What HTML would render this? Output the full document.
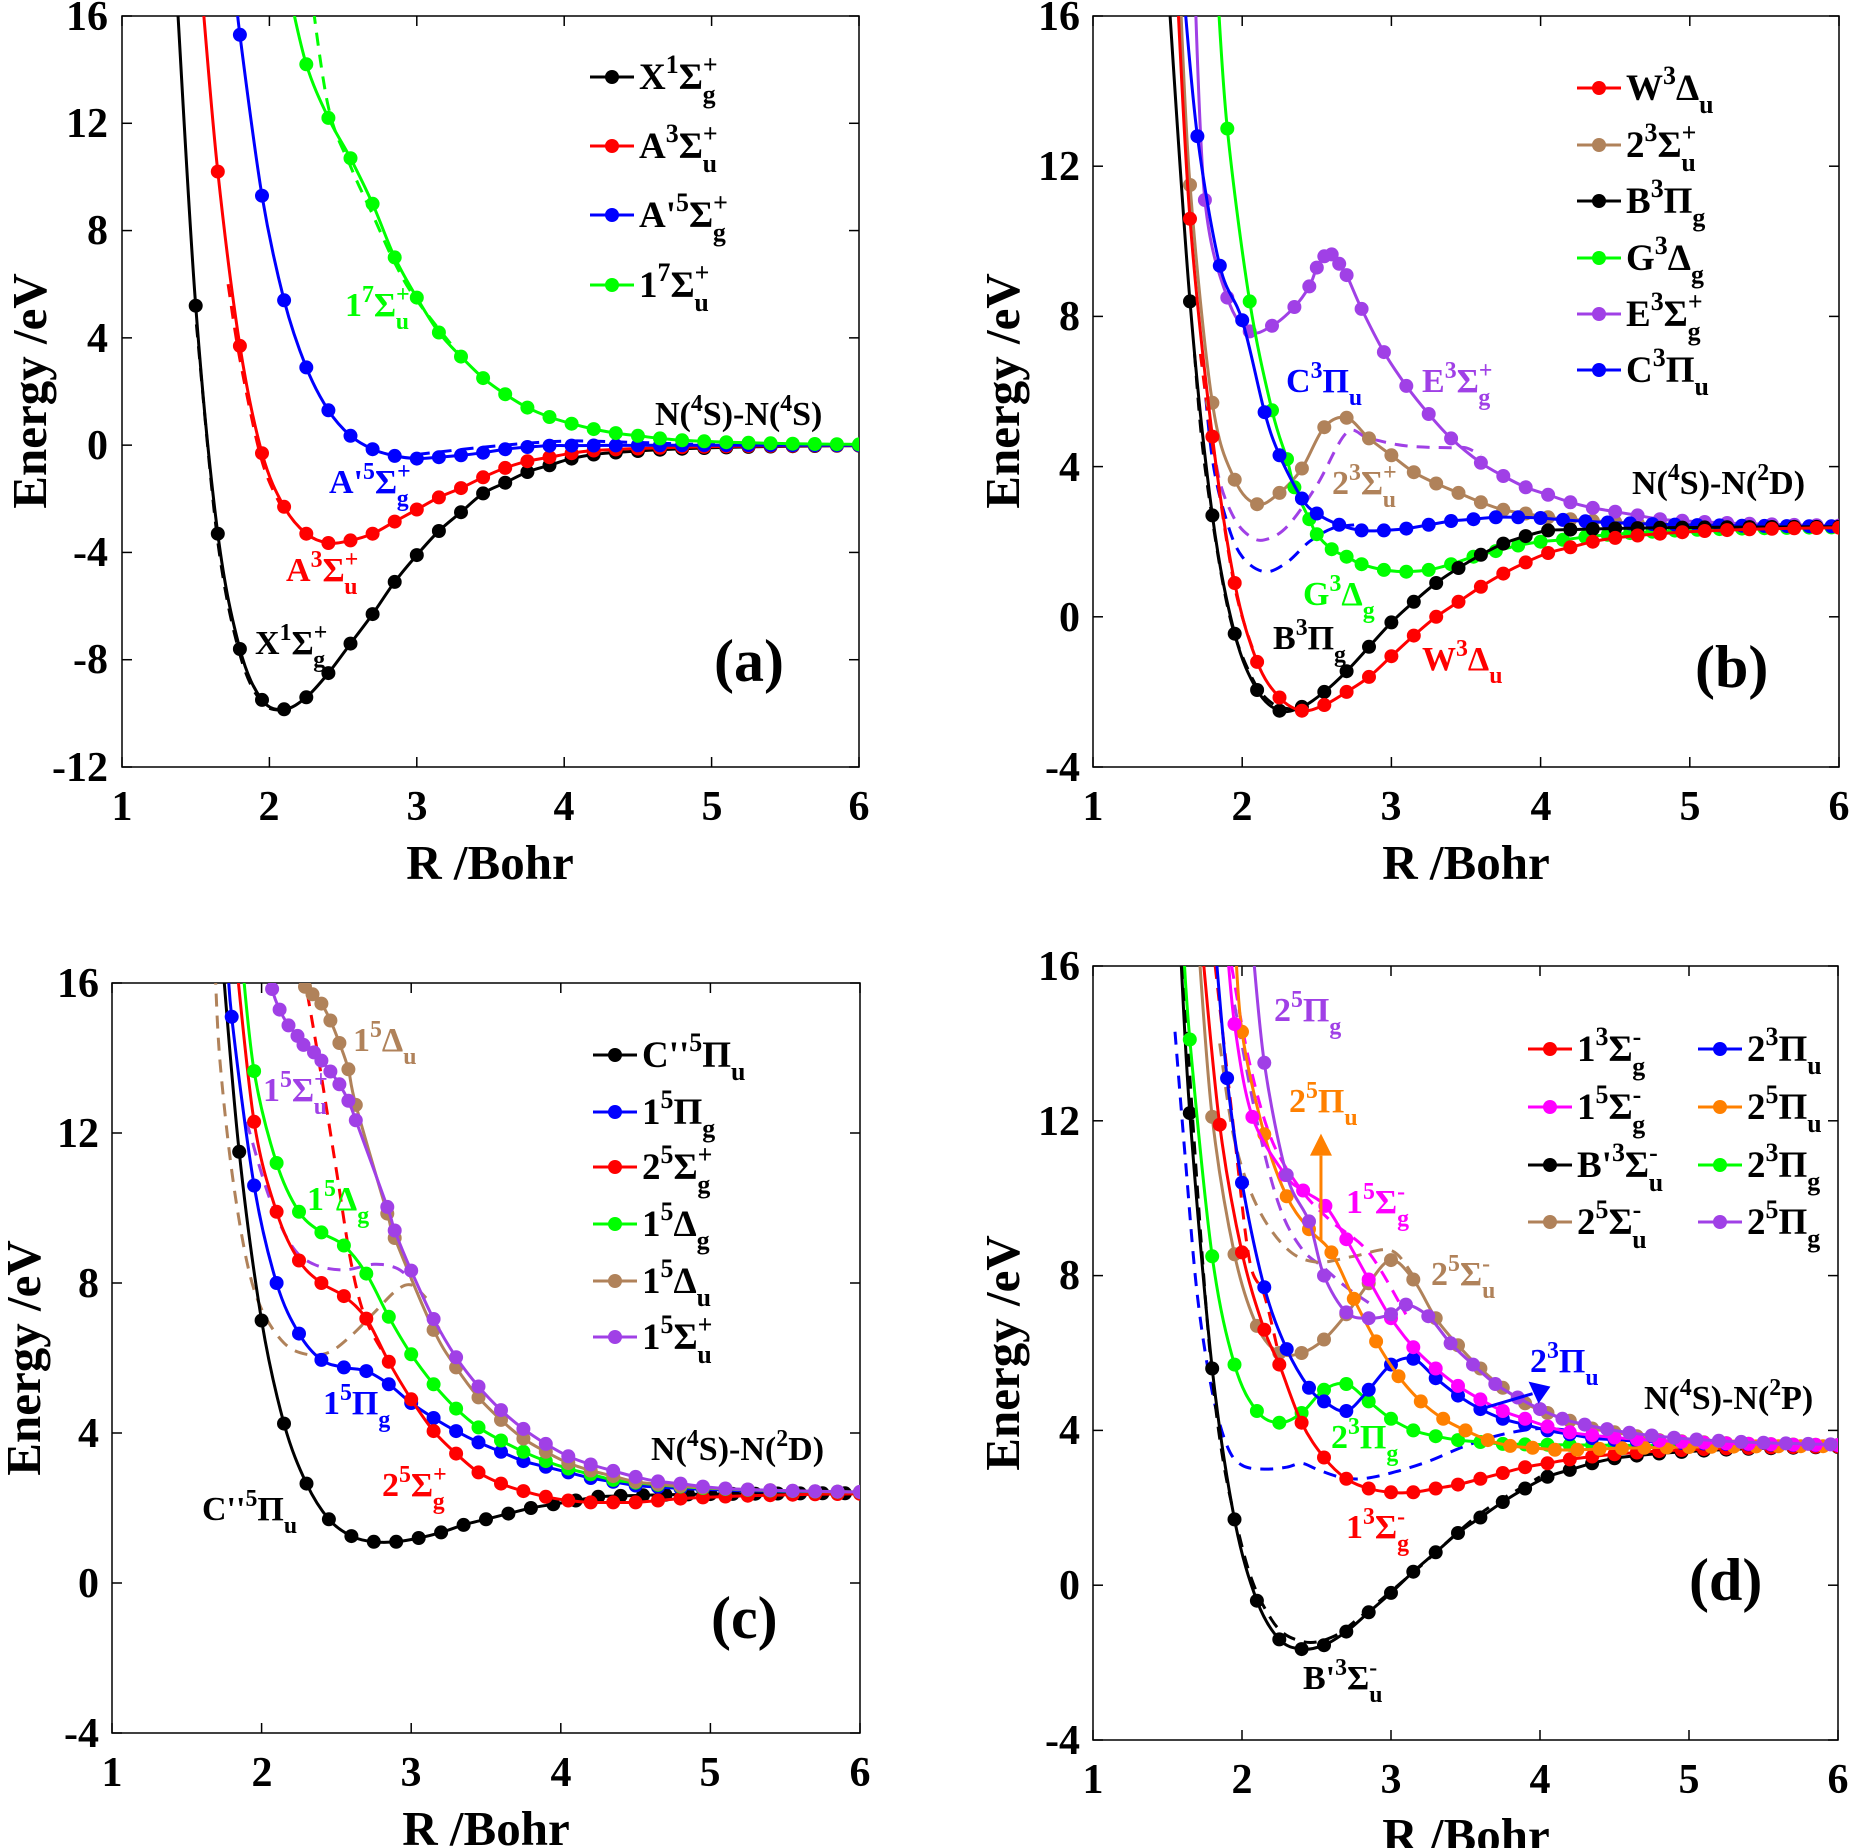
<!DOCTYPE html>
<html><head><meta charset="utf-8">
<style>
html,body{margin:0;padding:0;background:#fff;}
svg{display:block}
text{font-family:"Liberation Serif",serif;font-weight:bold}
.tk{font-size:42px}
.ti{font-size:49px}
.lg{font-size:37px}
.lb{font-size:34px}
.pl{font-size:60px}
.s{font-size:70%}
</style></head>
<body>
<svg id="svg" width="1850" height="1848" viewBox="0 0 1850 1848" xmlns="http://www.w3.org/2000/svg">
<defs>
<clipPath id="ca"><rect x="122" y="16" width="737" height="751"/></clipPath>
<clipPath id="cb"><rect x="1093" y="16" width="746" height="751"/></clipPath>
<clipPath id="cc"><rect x="112" y="983" width="748" height="750"/></clipPath>
<clipPath id="cd"><rect x="1093" y="966" width="745" height="774"/></clipPath>
</defs>
<g id="axes"></g>
<g id="ga" clip-path="url(#ca)"></g>
<g id="gb" clip-path="url(#cb)"></g>
<g id="gc" clip-path="url(#cc)"></g>
<g id="gd" clip-path="url(#cd)"></g>

<!-- Panel a texts -->
<g class="tk" text-anchor="end">
<text x="108" y="30">16</text><text x="108" y="137">12</text><text x="108" y="244">8</text><text x="108" y="352">4</text><text x="108" y="459">0</text><text x="108" y="566">-4</text><text x="108" y="673">-8</text><text x="108" y="781">-12</text>
</g>
<g class="tk" text-anchor="middle">
<text x="122" y="820">1</text><text x="269" y="820">2</text><text x="417" y="820">3</text><text x="564" y="820">4</text><text x="712" y="820">5</text><text x="859" y="820">6</text>
</g>
<text class="ti" x="490" y="879" text-anchor="middle">R /Bohr</text>
<text class="ti" transform="translate(46,391) rotate(-90)" text-anchor="middle">Energy /eV</text>
<text class="pl" x="714" y="681">(a)</text>

<!-- Panel b texts -->
<g class="tk" text-anchor="end">
<text x="1080" y="30">16</text><text x="1080" y="180">12</text><text x="1080" y="330">8</text><text x="1080" y="481">4</text><text x="1080" y="631">0</text><text x="1080" y="781">-4</text>
</g>
<g class="tk" text-anchor="middle">
<text x="1093" y="820">1</text><text x="1242" y="820">2</text><text x="1391" y="820">3</text><text x="1541" y="820">4</text><text x="1690" y="820">5</text><text x="1839" y="820">6</text>
</g>
<text class="ti" x="1466" y="879" text-anchor="middle">R /Bohr</text>
<text class="ti" transform="translate(1019,391) rotate(-90)" text-anchor="middle">Energy /eV</text>
<text class="pl" x="1695" y="687">(b)</text>

<!-- Panel c texts -->
<g class="tk" text-anchor="end">
<text x="99" y="997">16</text><text x="99" y="1147">12</text><text x="99" y="1297">8</text><text x="99" y="1447">4</text><text x="99" y="1597">0</text><text x="99" y="1747">-4</text>
</g>
<g class="tk" text-anchor="middle">
<text x="112" y="1786">1</text><text x="262" y="1786">2</text><text x="411" y="1786">3</text><text x="561" y="1786">4</text><text x="710" y="1786">5</text><text x="860" y="1786">6</text>
</g>
<text class="ti" x="486" y="1845" text-anchor="middle">R /Bohr</text>
<text class="ti" transform="translate(40,1358) rotate(-90)" text-anchor="middle">Energy /eV</text>
<text class="pl" x="711" y="1638">(c)</text>

<!-- Panel d texts -->
<g class="tk" text-anchor="end">
<text x="1080" y="980">16</text><text x="1080" y="1135">12</text><text x="1080" y="1289">8</text><text x="1080" y="1444">4</text><text x="1080" y="1599">0</text><text x="1080" y="1754">-4</text>
</g>
<g class="tk" text-anchor="middle">
<text x="1093" y="1793">1</text><text x="1242" y="1793">2</text><text x="1391" y="1793">3</text><text x="1540" y="1793">4</text><text x="1689" y="1793">5</text><text x="1838" y="1793">6</text>
</g>
<text class="ti" x="1466" y="1852" text-anchor="middle">R /Bohr</text>
<text class="ti" transform="translate(1019,1353) rotate(-90)" text-anchor="middle">Energy /eV</text>
<text class="pl" x="1689" y="1600">(d)</text>

<!-- ===== Legends ===== -->
<g stroke-width="3">
<line x1="590" x2="634" y1="77" y2="77" stroke="#000"/><circle cx="612" cy="77" r="7" fill="#000"/>
<line x1="590" x2="634" y1="146" y2="146" stroke="#f00"/><circle cx="612" cy="146" r="7" fill="#f00"/>
<line x1="590" x2="634" y1="215" y2="215" stroke="#00f"/><circle cx="612" cy="215" r="7" fill="#00f"/>
<line x1="590" x2="634" y1="285" y2="285" stroke="#0f0"/><circle cx="612" cy="285" r="7" fill="#0f0"/>
<line x1="1577" x2="1621" y1="88" y2="88" stroke="#f00"/><circle cx="1599" cy="88" r="7" fill="#f00"/>
<line x1="1577" x2="1621" y1="145" y2="145" stroke="#b0825a"/><circle cx="1599" cy="145" r="7" fill="#b0825a"/>
<line x1="1577" x2="1621" y1="201" y2="201" stroke="#000"/><circle cx="1599" cy="201" r="7" fill="#000"/>
<line x1="1577" x2="1621" y1="258" y2="258" stroke="#0f0"/><circle cx="1599" cy="258" r="7" fill="#0f0"/>
<line x1="1577" x2="1621" y1="314" y2="314" stroke="#a040e6"/><circle cx="1599" cy="314" r="7" fill="#a040e6"/>
<line x1="1577" x2="1621" y1="370" y2="370" stroke="#00f"/><circle cx="1599" cy="370" r="7" fill="#00f"/>
<line x1="593" x2="637" y1="1055" y2="1055" stroke="#000"/><circle cx="615" cy="1055" r="7" fill="#000"/>
<line x1="593" x2="637" y1="1112" y2="1112" stroke="#00f"/><circle cx="615" cy="1112" r="7" fill="#00f"/>
<line x1="593" x2="637" y1="1167" y2="1167" stroke="#f00"/><circle cx="615" cy="1167" r="7" fill="#f00"/>
<line x1="593" x2="637" y1="1224" y2="1224" stroke="#0f0"/><circle cx="615" cy="1224" r="7" fill="#0f0"/>
<line x1="593" x2="637" y1="1281" y2="1281" stroke="#b0825a"/><circle cx="615" cy="1281" r="7" fill="#b0825a"/>
<line x1="593" x2="637" y1="1337" y2="1337" stroke="#a040e6"/><circle cx="615" cy="1337" r="7" fill="#a040e6"/>
<line x1="1528" x2="1572" y1="1049" y2="1049" stroke="#f00"/><circle cx="1550" cy="1049" r="7" fill="#f00"/>
<line x1="1528" x2="1572" y1="1107" y2="1107" stroke="#f0f"/><circle cx="1550" cy="1107" r="7" fill="#f0f"/>
<line x1="1528" x2="1572" y1="1165" y2="1165" stroke="#000"/><circle cx="1550" cy="1165" r="7" fill="#000"/>
<line x1="1528" x2="1572" y1="1222" y2="1222" stroke="#b0825a"/><circle cx="1550" cy="1222" r="7" fill="#b0825a"/>
<line x1="1698" x2="1742" y1="1049" y2="1049" stroke="#00f"/><circle cx="1720" cy="1049" r="7" fill="#00f"/>
<line x1="1698" x2="1742" y1="1107" y2="1107" stroke="#ff8000"/><circle cx="1720" cy="1107" r="7" fill="#ff8000"/>
<line x1="1698" x2="1742" y1="1165" y2="1165" stroke="#0f0"/><circle cx="1720" cy="1165" r="7" fill="#0f0"/>
<line x1="1698" x2="1742" y1="1222" y2="1222" stroke="#a040e6"/><circle cx="1720" cy="1222" r="7" fill="#a040e6"/>
</g>

<g class="lg">
<text x="639" y="89">X<tspan class="s" dy="-16">1</tspan><tspan dy="16">Σ</tspan><tspan class="s" dy="-16">+</tspan><tspan class="s" dx="-15" dy="30">g</tspan></text>
<text x="639" y="158">A<tspan class="s" dy="-16">3</tspan><tspan dy="16">Σ</tspan><tspan class="s" dy="-16">+</tspan><tspan class="s" dx="-15" dy="30">u</tspan></text>
<text x="639" y="227">A'<tspan class="s" dy="-16">5</tspan><tspan dy="16">Σ</tspan><tspan class="s" dy="-16">+</tspan><tspan class="s" dx="-15" dy="30">g</tspan></text>
<text x="639" y="297">1<tspan class="s" dy="-16">7</tspan><tspan dy="16">Σ</tspan><tspan class="s" dy="-16">+</tspan><tspan class="s" dx="-15" dy="30">u</tspan></text>
<text x="1626" y="100">W<tspan class="s" dy="-16">3</tspan><tspan dy="16">Δ</tspan><tspan class="s" dy="13">u</tspan></text>
<text x="1626" y="157">2<tspan class="s" dy="-16">3</tspan><tspan dy="16">Σ</tspan><tspan class="s" dy="-16">+</tspan><tspan class="s" dx="-15" dy="30">u</tspan></text>
<text x="1626" y="213">B<tspan class="s" dy="-16">3</tspan><tspan dy="16">Π</tspan><tspan class="s" dy="13">g</tspan></text>
<text x="1626" y="270">G<tspan class="s" dy="-16">3</tspan><tspan dy="16">Δ</tspan><tspan class="s" dy="13">g</tspan></text>
<text x="1626" y="326">E<tspan class="s" dy="-16">3</tspan><tspan dy="16">Σ</tspan><tspan class="s" dy="-16">+</tspan><tspan class="s" dx="-15" dy="30">g</tspan></text>
<text x="1626" y="382">C<tspan class="s" dy="-16">3</tspan><tspan dy="16">Π</tspan><tspan class="s" dy="13">u</tspan></text>
<text x="642" y="1067">C''<tspan class="s" dy="-16">5</tspan><tspan dy="16">Π</tspan><tspan class="s" dy="13">u</tspan></text>
<text x="642" y="1124">1<tspan class="s" dy="-16">5</tspan><tspan dy="16">Π</tspan><tspan class="s" dy="13">g</tspan></text>
<text x="642" y="1179">2<tspan class="s" dy="-16">5</tspan><tspan dy="16">Σ</tspan><tspan class="s" dy="-16">+</tspan><tspan class="s" dx="-15" dy="30">g</tspan></text>
<text x="642" y="1236">1<tspan class="s" dy="-16">5</tspan><tspan dy="16">Δ</tspan><tspan class="s" dy="13">g</tspan></text>
<text x="642" y="1293">1<tspan class="s" dy="-16">5</tspan><tspan dy="16">Δ</tspan><tspan class="s" dy="13">u</tspan></text>
<text x="642" y="1349">1<tspan class="s" dy="-16">5</tspan><tspan dy="16">Σ</tspan><tspan class="s" dy="-16">+</tspan><tspan class="s" dx="-15" dy="30">u</tspan></text>
<text x="1577" y="1061">1<tspan class="s" dy="-16">3</tspan><tspan dy="16">Σ</tspan><tspan class="s" dy="-16">-</tspan><tspan class="s" dx="-9" dy="30">g</tspan></text>
<text x="1577" y="1119">1<tspan class="s" dy="-16">5</tspan><tspan dy="16">Σ</tspan><tspan class="s" dy="-16">-</tspan><tspan class="s" dx="-9" dy="30">g</tspan></text>
<text x="1577" y="1177">B'<tspan class="s" dy="-16">3</tspan><tspan dy="16">Σ</tspan><tspan class="s" dy="-16">-</tspan><tspan class="s" dx="-9" dy="30">u</tspan></text>
<text x="1577" y="1234">2<tspan class="s" dy="-16">5</tspan><tspan dy="16">Σ</tspan><tspan class="s" dy="-16">-</tspan><tspan class="s" dx="-9" dy="30">u</tspan></text>
<text x="1747" y="1061">2<tspan class="s" dy="-16">3</tspan><tspan dy="16">Π</tspan><tspan class="s" dy="13">u</tspan></text>
<text x="1747" y="1119">2<tspan class="s" dy="-16">5</tspan><tspan dy="16">Π</tspan><tspan class="s" dy="13">u</tspan></text>
<text x="1747" y="1177">2<tspan class="s" dy="-16">3</tspan><tspan dy="16">Π</tspan><tspan class="s" dy="13">g</tspan></text>
<text x="1747" y="1234">2<tspan class="s" dy="-16">5</tspan><tspan dy="16">Π</tspan><tspan class="s" dy="13">g</tspan></text>
</g>

<!-- ===== In-plot labels ===== -->
<g class="lb">
<text x="345" y="316" fill="#0f0">1<tspan class="s" dy="-14">7</tspan><tspan dy="14">Σ</tspan><tspan class="s" dy="-14">+</tspan><tspan class="s" dx="-14" dy="27">u</tspan></text>
<text x="655" y="425">N(<tspan class="s" dy="-14">4</tspan><tspan dy="14">S)-N(</tspan><tspan class="s" dy="-14">4</tspan><tspan dy="14">S)</tspan></text>
<text x="329" y="493" fill="#00f">A'<tspan class="s" dy="-14">5</tspan><tspan dy="14">Σ</tspan><tspan class="s" dy="-14">+</tspan><tspan class="s" dx="-14" dy="27">g</tspan></text>
<text x="286" y="581" fill="#f00">A<tspan class="s" dy="-14">3</tspan><tspan dy="14">Σ</tspan><tspan class="s" dy="-14">+</tspan><tspan class="s" dx="-14" dy="27">u</tspan></text>
<text x="255" y="654">X<tspan class="s" dy="-14">1</tspan><tspan dy="14">Σ</tspan><tspan class="s" dy="-14">+</tspan><tspan class="s" dx="-14" dy="27">g</tspan></text>
<text x="1286" y="392" fill="#00f">C<tspan class="s" dy="-14">3</tspan><tspan dy="14">Π</tspan><tspan class="s" dy="13">u</tspan></text>
<text x="1422" y="392" fill="#a040e6">E<tspan class="s" dy="-14">3</tspan><tspan dy="14">Σ</tspan><tspan class="s" dy="-14">+</tspan><tspan class="s" dx="-14" dy="27">g</tspan></text>
<text x="1332" y="494" fill="#b0825a">2<tspan class="s" dy="-14">3</tspan><tspan dy="14">Σ</tspan><tspan class="s" dy="-14">+</tspan><tspan class="s" dx="-14" dy="27">u</tspan></text>
<text x="1632" y="494">N(<tspan class="s" dy="-14">4</tspan><tspan dy="14">S)-N(</tspan><tspan class="s" dy="-14">2</tspan><tspan dy="14">D)</tspan></text>
<text x="1303" y="605" fill="#0f0">G<tspan class="s" dy="-14">3</tspan><tspan dy="14">Δ</tspan><tspan class="s" dy="13">g</tspan></text>
<text x="1273" y="649">B<tspan class="s" dy="-14">3</tspan><tspan dy="14">Π</tspan><tspan class="s" dy="13">g</tspan></text>
<text x="1422" y="670" fill="#f00">W<tspan class="s" dy="-14">3</tspan><tspan dy="14">Δ</tspan><tspan class="s" dy="13">u</tspan></text>
<text x="353" y="1051" fill="#b0825a">1<tspan class="s" dy="-14">5</tspan><tspan dy="14">Δ</tspan><tspan class="s" dy="13">u</tspan></text>
<text x="263" y="1101" fill="#a040e6">1<tspan class="s" dy="-14">5</tspan><tspan dy="14">Σ</tspan><tspan class="s" dy="-14">+</tspan><tspan class="s" dx="-14" dy="27">u</tspan></text>
<text x="307" y="1210" fill="#0f0">1<tspan class="s" dy="-14">5</tspan><tspan dy="14">Δ</tspan><tspan class="s" dy="13">g</tspan></text>
<text x="323" y="1414" fill="#00f">1<tspan class="s" dy="-14">5</tspan><tspan dy="14">Π</tspan><tspan class="s" dy="13">g</tspan></text>
<text x="382" y="1496" fill="#f00">2<tspan class="s" dy="-14">5</tspan><tspan dy="14">Σ</tspan><tspan class="s" dy="-14">+</tspan><tspan class="s" dx="-14" dy="27">g</tspan></text>
<text x="202" y="1520">C''<tspan class="s" dy="-14">5</tspan><tspan dy="14">Π</tspan><tspan class="s" dy="13">u</tspan></text>
<text x="651" y="1460">N(<tspan class="s" dy="-14">4</tspan><tspan dy="14">S)-N(</tspan><tspan class="s" dy="-14">2</tspan><tspan dy="14">D)</tspan></text>
<text x="1274" y="1021" fill="#a040e6">2<tspan class="s" dy="-14">5</tspan><tspan dy="14">Π</tspan><tspan class="s" dy="13">g</tspan></text>
<text x="1289" y="1112" fill="#ff8000">2<tspan class="s" dy="-14">5</tspan><tspan dy="14">Π</tspan><tspan class="s" dy="13">u</tspan></text>
<text x="1346" y="1213" fill="#f0f">1<tspan class="s" dy="-14">5</tspan><tspan dy="14">Σ</tspan><tspan class="s" dy="-14">-</tspan><tspan class="s" dx="-8" dy="27">g</tspan></text>
<text x="1431" y="1285" fill="#b0825a">2<tspan class="s" dy="-14">5</tspan><tspan dy="14">Σ</tspan><tspan class="s" dy="-14">-</tspan><tspan class="s" dx="-8" dy="27">u</tspan></text>
<text x="1530" y="1372" fill="#00f">2<tspan class="s" dy="-14">3</tspan><tspan dy="14">Π</tspan><tspan class="s" dy="13">u</tspan></text>
<text x="1644" y="1409">N(<tspan class="s" dy="-14">4</tspan><tspan dy="14">S)-N(</tspan><tspan class="s" dy="-14">2</tspan><tspan dy="14">P)</tspan></text>
<text x="1331" y="1448" fill="#0f0">2<tspan class="s" dy="-14">3</tspan><tspan dy="14">Π</tspan><tspan class="s" dy="13">g</tspan></text>
<text x="1346" y="1538" fill="#f00">1<tspan class="s" dy="-14">3</tspan><tspan dy="14">Σ</tspan><tspan class="s" dy="-14">-</tspan><tspan class="s" dx="-8" dy="27">g</tspan></text>
<text x="1303" y="1689">B'<tspan class="s" dy="-14">3</tspan><tspan dy="14">Σ</tspan><tspan class="s" dy="-14">-</tspan><tspan class="s" dx="-8" dy="27">u</tspan></text>
</g>
<g id="arrows"></g>
</svg>
<script>
var P={
a:{x0:122,x1:859,y0:16,y1:767,lo:-12,hi:16,A:0},
b:{x0:1093,x1:1839,y0:16,y1:767,lo:-4,hi:16,A:2.4},
c:{x0:112,x1:860,y0:983,y1:1733,lo:-4,hi:16,A:2.4},
d:{x0:1093,x1:1838,y0:966,y1:1740,lo:-4,hi:16,A:3.6}};
function X(p,R){return p.x0+(R-1)/5*(p.x1-p.x0);}
function Y(p,E){return p.y1-(E-p.lo)/(p.hi-p.lo)*(p.y1-p.y0);}
var K='#000',R='#f00',B='#00f',G='#0f0',N='#b0825a',U='#a040e6',M='#f0f',O='#ff8000';
var C={a:[
[K,[[1.505,4.5],[1.65,-3.6],[1.8,-7.8],[1.95,-9.6],[2.1,-9.9]],1],
[G,[[2.28,17],[2.4,12.6],[2.55,10.4],[2.7,8.6],[2.85,6.8],[3.0,5.4],[3.3,3.3]],1],
[B,[[3.0,-0.35],[3.5,-0.05],[4.0,0.15],[4.5,0.1],[5,0.02],[6,0]],1],
[R,[[1.72,6],[1.8,3.2],[1.95,-0.6],[2.1,-2.5]],1],
[K,[[1.37,17],[1.5,5.2],[1.65,-3.3],[1.8,-7.6],[1.95,-9.5],[2.1,-9.85],[2.25,-9.4],[2.4,-8.5],[2.55,-7.4],[2.7,-6.3],[2.85,-5.1],[3.0,-4.1],[3.15,-3.2],[3.3,-2.5],[3.45,-1.8],[3.6,-1.4],[3.75,-1.0],[3.9,-0.75],[4.05,-0.5],[4.2,-0.35]],0],
[R,[[1.54,17],[1.65,10.2],[1.8,3.7],[1.95,-0.3],[2.1,-2.3],[2.25,-3.3],[2.4,-3.65],[2.55,-3.55],[2.7,-3.3],[2.85,-2.85],[3.0,-2.4],[3.15,-1.95],[3.3,-1.6],[3.45,-1.2],[3.6,-0.85],[3.75,-0.6],[3.9,-0.45],[4.05,-0.3],[4.2,-0.2]],0],
[B,[[1.77,17],[1.8,15.3],[1.95,9.3],[2.1,5.4],[2.25,2.9],[2.4,1.3],[2.55,0.35],[2.7,-0.15],[2.85,-0.4],[3.0,-0.5],[3.15,-0.45],[3.3,-0.38],[3.45,-0.28],[3.6,-0.15],[3.75,-0.07],[3.9,-0.02]],0],
[G,[[2.13,17],[2.25,14.2],[2.4,12.2],[2.55,10.7],[2.7,9.0],[2.85,7.0],[3.0,5.5],[3.15,4.2],[3.3,3.3],[3.45,2.5],[3.6,1.9],[3.75,1.4],[3.9,1.05],[4.05,0.8],[4.2,0.6],[4.35,0.45],[4.5,0.35],[4.65,0.25],[4.8,0.18]],0]
],b:[
[B,[[1.73,7],[1.8,4.2],[1.9,2.5],[2.0,1.6],[2.15,1.2],[2.3,1.45],[2.45,2.0],[2.6,2.35],[2.75,2.45]],1],
[U,[[1.78,5.2],[1.85,3.6],[1.95,2.6],[2.05,2.15],[2.15,2.05],[2.3,2.4],[2.5,3.5],[2.7,4.9],[2.85,4.75],[3.1,4.55],[3.4,4.5],[3.5,4.5],[3.6,4.3]],1],
[R,[[1.72,7],[1.8,4.6],[1.95,0.8],[2.1,-1.2]],1],
[K,[[1.68,7],[1.75,4.0],[1.9,0.3],[2.05,-1.5],[2.2,-2.3],[2.4,-2.5]],1],
[N,[[1.58,17],[1.65,11.5],[1.8,5.7],[1.95,3.65],[2.1,3.0],[2.25,3.3],[2.4,3.95],[2.55,5.05],[2.7,5.3],[2.85,4.75],[3.0,4.3],[3.15,3.85],[3.3,3.55],[3.45,3.3],[3.6,3.05],[3.75,2.85],[3.9,2.75],[4.05,2.65]],0],
[U,[[1.68,17],[1.75,11.1],[1.9,8.5],[2.05,7.6],[2.2,7.75],[2.35,8.25],[2.45,8.8],[2.5,9.3],[2.55,9.6],[2.6,9.65],[2.65,9.4],[2.7,9.1],[2.8,8.2],[2.95,7.05],[3.1,6.15],[3.25,5.4],[3.4,4.75],[3.6,4.1],[3.75,3.75],[3.9,3.45],[4.05,3.25],[4.2,3.05],[4.35,2.9],[4.5,2.8],[4.65,2.7],[4.8,2.6]],0],
[G,[[1.83,17],[1.9,13.0],[2.05,8.4],[2.2,5.5],[2.3,4.2],[2.35,3.45],[2.45,2.6],[2.5,2.2],[2.6,1.8],[2.7,1.6],[2.8,1.4],[2.95,1.25],[3.1,1.2],[3.25,1.25],[3.4,1.4],[3.55,1.6],[3.7,1.75],[3.85,1.9],[4.0,2.0],[4.15,2.05]],0],
[B,[[1.6,17],[1.7,12.8],[1.85,9.35],[2.0,7.9],[2.15,5.45],[2.25,4.3],[2.4,3.15],[2.5,2.75],[2.65,2.45],[2.8,2.3],[2.95,2.3],[3.1,2.35],[3.25,2.45],[3.4,2.55],[3.55,2.6],[3.7,2.65],[3.85,2.65],[4.0,2.63]],0],
[K,[[1.5,17],[1.65,8.4],[1.8,2.7],[1.95,-0.45],[2.1,-1.95],[2.25,-2.5],[2.4,-2.4],[2.55,-2.0],[2.7,-1.45],[2.85,-0.8],[3.0,-0.15],[3.15,0.4],[3.3,0.9],[3.45,1.3],[3.6,1.65],[3.75,1.95],[3.9,2.15],[4.05,2.3]],0],
[R,[[1.56,17],[1.65,10.6],[1.8,4.8],[1.95,0.9],[2.1,-1.2],[2.25,-2.15],[2.4,-2.5],[2.55,-2.35],[2.7,-2.0],[2.85,-1.6],[3.0,-1.05],[3.15,-0.5],[3.3,0.0],[3.45,0.4],[3.6,0.8],[3.75,1.15],[3.9,1.45],[4.05,1.7],[4.2,1.85],[4.35,2.0],[4.5,2.1]],0]
],c:[
[N,[[1.69,16.3],[1.72,14],[1.8,11],[1.9,8.6],[2.0,7.3],[2.15,6.4],[2.3,6.1],[2.45,6.15],[2.6,6.6],[2.75,7.2],[2.9,7.8],[3.0,7.95],[3.1,7.6]],1],
[R,[[2.28,16.3],[2.38,14],[2.5,11],[2.6,8.5],[2.7,7.0],[2.85,5.9]],1],
[U,[[1.9,12.3],[2.05,10.3],[2.2,9.0],[2.35,8.5],[2.55,8.35],[2.75,8.5],[2.9,8.4],[3.0,8.1]],1],
[K,[[1.73,17],[1.85,11.5],[2.0,7.0],[2.15,4.25],[2.3,2.65],[2.45,1.7],[2.6,1.25],[2.75,1.1],[2.9,1.1],[3.05,1.2],[3.2,1.35],[3.35,1.55],[3.5,1.7],[3.65,1.85],[3.8,2.0],[3.95,2.1],[4.1,2.2],[4.25,2.3]],0],
[B,[[1.77,17],[1.8,15.1],[1.95,10.6],[2.1,8.0],[2.25,6.65],[2.4,5.95],[2.55,5.75],[2.7,5.65],[2.85,5.3],[3.0,4.8],[3.15,4.4],[3.3,4.05],[3.45,3.75],[3.6,3.5],[3.75,3.25],[3.9,3.1],[4.05,2.95],[4.2,2.8],[4.35,2.7],[4.5,2.6]],0],
[R,[[1.82,17],[1.95,12.3],[2.1,9.9],[2.25,8.6],[2.4,8.0],[2.55,7.65],[2.7,7.05],[2.85,5.9],[3.0,4.9],[3.15,4.05],[3.3,3.45],[3.45,2.95],[3.6,2.65],[3.75,2.45],[3.9,2.3],[4.05,2.2],[4.2,2.15],[4.35,2.15],[4.5,2.15],[4.65,2.2],[4.8,2.25]],0],
[G,[[1.86,17],[1.95,13.65],[2.1,11.2],[2.25,9.9],[2.4,9.35],[2.55,9.0],[2.7,8.25],[2.85,7.1],[3.0,6.1],[3.15,5.3],[3.3,4.65],[3.45,4.15],[3.6,3.8],[3.75,3.5],[3.9,3.25],[4.05,3.05],[4.2,2.9],[4.35,2.75]],0],
[N,[[2.26,16.6],[2.29,15.9],[2.34,15.7],[2.4,15.45],[2.46,15.0],[2.52,14.4],[2.58,13.7],[2.63,12.75],[2.84,9.85],[2.89,9.2],[3.15,6.75],[3.3,5.75],[3.45,4.95],[3.6,4.35],[3.75,3.85],[3.9,3.5],[4.05,3.2],[4.2,3.0],[4.35,2.85],[4.5,2.7]],0],
[U,[[2.04,16.6],[2.07,15.84],[2.12,15.29],[2.18,14.87],[2.24,14.59],[2.28,14.35],[2.35,14.15],[2.4,13.93],[2.46,13.64],[2.52,13.3],[2.58,12.86],[2.63,12.34],[2.84,10.03],[2.89,9.4],[3.0,8.33],[3.15,7.04],[3.3,6.02],[3.45,5.24],[3.6,4.61],[3.75,4.11],[3.9,3.71],[4.05,3.38],[4.2,3.16],[4.35,2.99],[4.5,2.83],[4.65,2.71],[4.8,2.65],[4.95,2.57],[5.1,2.52]],0]
],d:[
[B,[[1.55,14.3],[1.62,11],[1.7,7.5],[1.8,5.0],[1.9,3.6],[2.0,3.1],[2.15,3.0],[2.3,3.05],[2.4,3.15],[2.5,3.0],[2.65,2.8],[2.8,2.75],[3.0,2.9],[3.25,3.2],[3.5,3.6],[3.75,3.9],[4.0,4.05],[4.2,4.0]],1],
[K,[[1.6,16],[1.8,5.4],[2.0,1.0],[2.2,-0.9],[2.4,-1.45],[2.6,-1.35],[2.8,-0.8],[3.2,0.5],[3.6,1.85],[4.0,2.8]],1],
[R,[[1.82,16],[1.95,11.6],[2.05,8.4],[2.15,7.5],[2.25,5.9]],1],
[M,[[1.93,16],[2.05,13.5],[2.2,11.5],[2.4,10.2],[2.6,9.4],[2.85,8.6],[3.1,7.0]],1],
[U,[[1.95,15],[2.1,12],[2.25,9.8],[2.4,8.7],[2.55,8.2],[2.7,7.7],[2.85,7.3]],1],
[N,[[1.85,14],[1.95,11.5],[2.1,9.8],[2.3,8.7],[2.5,8.35],[2.75,8.5],[3.0,8.65],[3.15,8.0]],1],
[K,[[1.58,17],[1.65,12.2],[1.8,5.6],[1.95,1.7],[2.1,-0.4],[2.25,-1.4],[2.4,-1.65],[2.55,-1.55],[2.7,-1.2],[2.85,-0.7],[3.0,-0.2],[3.15,0.35],[3.3,0.85],[3.45,1.35],[3.6,1.75],[3.75,2.15],[3.9,2.5],[4.05,2.8],[4.2,2.98],[4.35,3.15],[4.5,3.28],[4.65,3.35]],0],
[G,[[1.6,17],[1.65,14.1],[1.8,8.5],[1.95,5.7],[2.1,4.5],[2.25,4.2],[2.4,4.45],[2.55,5.05],[2.7,5.2],[2.85,4.75],[3.0,4.3],[3.15,4.0],[3.3,3.85],[3.45,3.75],[3.6,3.7],[3.75,3.65]],0],
[N,[[1.7,17],[1.8,12.1],[1.95,8.55],[2.1,6.7],[2.25,6.0],[2.4,6.0],[2.55,6.35],[2.7,7.0],[2.85,7.8],[3.0,8.4],[3.15,7.9],[3.3,6.9],[3.45,6.2],[3.6,5.6],[3.75,5.1],[3.9,4.7],[4.05,4.45],[4.2,4.25],[4.35,4.05],[4.5,3.95],[4.65,3.85],[4.8,3.75]],0],
[R,[[1.72,17],[1.85,11.9],[2.0,8.6],[2.15,6.6],[2.25,5.7],[2.4,4.2],[2.55,3.3],[2.7,2.75],[2.85,2.5],[3.0,2.4],[3.15,2.4],[3.3,2.5],[3.45,2.6],[3.6,2.75],[3.75,2.9],[3.9,3.05],[4.05,3.15],[4.2,3.25]],0],
[B,[[1.81,17],[1.9,13.1],[2.0,10.4],[2.15,7.7],[2.3,6.1],[2.45,5.1],[2.55,4.75],[2.7,4.5],[2.85,5.05],[3.0,5.7],[3.15,5.85],[3.3,5.35],[3.45,4.9],[3.6,4.55],[3.75,4.3],[3.9,4.15],[4.05,4.0],[4.2,3.9],[4.35,3.8]],0],
[O,[[1.95,17],[2.0,14.3],[2.15,11.65],[2.3,10.05],[2.45,9.2],[2.6,8.6],[2.75,7.4],[2.9,6.3],[3.05,5.4],[3.2,4.75],[3.35,4.3],[3.5,4.0],[3.65,3.75],[3.8,3.6],[3.95,3.55],[4.1,3.5],[4.25,3.5]],0],
[M,[[1.89,17],[1.95,14.5],[2.07,12.1],[2.29,10.6],[2.41,10.2],[2.56,9.8],[2.7,8.94],[2.85,7.9],[3.0,6.9],[3.15,6.15],[3.3,5.6],[3.45,5.15],[3.6,4.8],[3.75,4.5],[3.9,4.3],[4.05,4.1],[4.2,3.95]],0],
[U,[[2.06,17],[2.15,13.5],[2.3,10.6],[2.45,9.4],[2.55,8.0],[2.7,7.05],[2.85,6.9],[3.0,7.0],[3.1,7.25],[3.25,6.95],[3.4,6.25],[3.55,5.7],[3.7,5.2],[3.85,4.85],[4.0,4.55],[4.15,4.3]],0]
]};
function path(px){
 var s='M'+px[0][0].toFixed(1)+','+px[0][1].toFixed(1);
 for(var i=0;i<px.length-1;i++){
  var p0=px[i-1]||px[i],p1=px[i],p2=px[i+1],p3=px[i+2]||px[i+1];
  var c1x=p1[0]+(p2[0]-p0[0])/6,c1y=p1[1]+(p2[1]-p0[1])/6;
  var c2x=p2[0]-(p3[0]-p1[0])/6,c2y=p2[1]-(p3[1]-p1[1])/6;
  s+='C'+c1x.toFixed(1)+','+c1y.toFixed(1)+' '+c2x.toFixed(1)+','+c2y.toFixed(1)+' '+p2[0].toFixed(1)+','+p2[1].toFixed(1);
 }
 return s;
}
var ax='';
for(var k in P){
 var p=P[k],out='';
 C[k].forEach(function(c){
  var pts=c[1].slice(),dash=c[2];
  if(!dash){
   var last=pts[pts.length-1],r=last[0]+0.15;
   while(r<=6.001){pts.push([r,p.A+(last[1]-p.A)*Math.exp(-1.6*(r-last[0]))]);r+=0.15;}
  }
  var px=pts.map(function(q){return [X(p,q[0]),Y(p,q[1])];});
  out+='<path d="'+path(px)+'" fill="none" stroke="'+c[0]+'" stroke-width="3"'+(dash?' stroke-dasharray="13,9"':'')+'/>';
  if(!dash){pts.forEach(function(q,i){if(q[1]<16.01)out+='<circle cx="'+px[i][0].toFixed(1)+'" cy="'+px[i][1].toFixed(1)+'" r="7" fill="'+c[0]+'"/>';});}
 });
 document.getElementById('g'+k).innerHTML=out;
 ax+='<rect x="'+p.x0+'" y="'+p.y0+'" width="'+(p.x1-p.x0)+'" height="'+(p.y1-p.y0)+'" fill="none" stroke="#000" stroke-width="1.5"/>';
 for(var r=1;r<=6;r++){var x=X(p,r);ax+='<line x1="'+x+'" x2="'+x+'" y1="'+p.y1+'" y2="'+(p.y1-10)+'" stroke="#000" stroke-width="1.5"/><line x1="'+x+'" x2="'+x+'" y1="'+p.y0+'" y2="'+(p.y0+10)+'" stroke="#000" stroke-width="1.5"/>';}
 for(var e=p.lo;e<=p.hi;e+=4){var y=Y(p,e);ax+='<line x1="'+p.x0+'" x2="'+(p.x0+10)+'" y1="'+y+'" y2="'+y+'" stroke="#000" stroke-width="1.5"/><line x1="'+p.x1+'" x2="'+(p.x1-10)+'" y1="'+y+'" y2="'+y+'" stroke="#000" stroke-width="1.5"/>';}
}
document.getElementById('axes').innerHTML=ax;
var d=P.d,ar='';
var ox=X(d,2.53);
ar+='<line x1="'+ox+'" x2="'+ox+'" y1="'+Y(d,8.9)+'" y2="'+Y(d,11.1)+'" stroke="#ff8000" stroke-width="3"/>';
ar+='<polygon points="'+(ox-11)+','+Y(d,11.1)+' '+(ox+11)+','+Y(d,11.1)+' '+ox+','+(Y(d,11.1)-22)+'" fill="#ff8000"/>';
var bx1=X(d,3.6),by1=Y(d,4.55),bx2=X(d,3.95),by2=Y(d,4.95),tx=X(d,4.07),ty=Y(d,5.13);
ar+='<line x1="'+bx1+'" y1="'+by1+'" x2="'+bx2+'" y2="'+by2+'" stroke="#00f" stroke-width="3"/>';
ar+='<polygon points="'+tx+','+ty+' '+(bx2-4)+','+(by2-12)+' '+(bx2+6)+','+(by2+10)+'" fill="#00f"/>';
document.getElementById('arrows').innerHTML=ar;
</script>
</body></html>
